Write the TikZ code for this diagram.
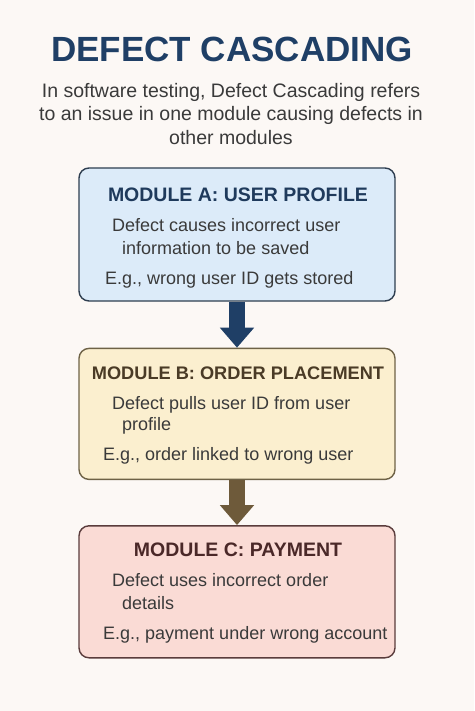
\documentclass[tikz,border=0pt]{standalone}
\usepackage{fontspec}
\setmainfont{Liberation Sans}
\usetikzlibrary{arrows.meta,positioning}
\definecolor{pagebg}{HTML}{FCF8F5}
\definecolor{headblue}{HTML}{1F3F66}
\definecolor{introgray}{HTML}{3A3A3A}
\definecolor{afill}{HTML}{DCEBF9}
\definecolor{aline}{HTML}{2E3E50}
\definecolor{atext}{HTML}{1F3A5C}
\definecolor{bfill}{HTML}{FBEFCF}
\definecolor{bline}{HTML}{6E6246}
\definecolor{btext}{HTML}{4A3B26}
\definecolor{cfill}{HTML}{FADBD5}
\definecolor{cline}{HTML}{5A3C3C}
\definecolor{ctext}{HTML}{4A2828}
\definecolor{arrowbrown}{HTML}{6E5A3A}

\begin{document}
\begin{tikzpicture}[x=1pt,y=-1pt,
    modbox/.style={rounded corners=10pt,line width=1.4pt,
                   minimum width=316pt,inner sep=0pt},
    modtitle/.style={inner sep=0pt,font=\fontsize{19.5}{23}\selectfont\bfseries},
    body/.style={anchor=base west,inner sep=0pt,text=introgray,
                 font=\fontsize{18}{22}\selectfont},
    cascade/.style={line width=16pt,-{Triangle[length=20pt,width=33pt]}}]
  \useasboundingbox[fill=pagebg] (0,0) rectangle (474,711);

  % heading and intro
  \node[inner sep=0pt,text=headblue,font=\fontsize{35}{40}\selectfont\bfseries]
        (head) at (232,49) {DEFECT CASCADING};
  \node[align=center,inner sep=0pt,text=introgray,
        font=\fontsize{19.5}{23.5}\selectfont] (intro) at (231,114)
        {In software testing, Defect Cascading refers\\
         to an issue in one module causing defects in\\
         other modules};

  % the three modules
  \node[modbox,draw=aline,fill=afill,minimum height=133pt] (moda) at (237,234.5) {};
  \node[modbox,draw=bline,fill=bfill,minimum height=131pt,below=46pt of moda] (modb) {};
  \node[modbox,draw=cline,fill=cfill,minimum height=132pt,below=45pt of modb] (modc) {};

  \node[modtitle,text=atext] (ta) at (238,195) {MODULE A: USER PROFILE};
  \node[body] (a1) at (112,232) {Defect causes incorrect user};
  \node[body] (a2) at (122,254) {information to be saved};
  \node[body] (a3) at (105,284) {E.g., wrong user ID gets stored};

  \node[modtitle,text=btext,font=\fontsize{18.2}{22}\selectfont\bfseries]
        (tb) at (238,373) {MODULE B: ORDER PLACEMENT};
  \node[body] (b1) at (112,409) {Defect pulls user ID from user};
  \node[body] (b2) at (122,430) {profile};
  \node[body] (b3) at (103,460) {E.g., order linked to wrong user};

  \node[modtitle,text=ctext] (tc) at (238,550) {MODULE C: PAYMENT};
  \node[body] (c1) at (112,586) {Defect uses incorrect order};
  \node[body] (c2) at (122,609) {details};
  \node[body] (c3) at (103,639) {E.g., payment under wrong account};

  % cascade arrows
  \draw[cascade,headblue] (moda) -- (modb);
  \draw[cascade,arrowbrown] (modb) -- (modc);
\end{tikzpicture}
\end{document}
